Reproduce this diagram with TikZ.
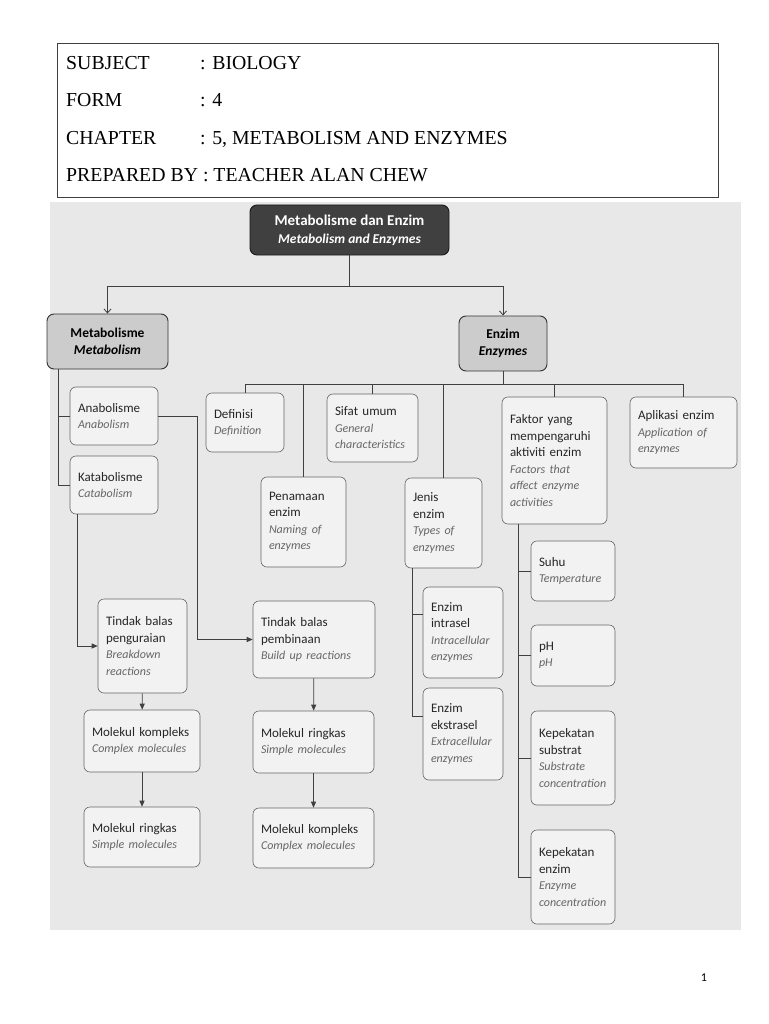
\documentclass[tikz,border=0pt]{standalone}
\usepackage{fontspec}
\setmainfont{Carlito}
\newfontfamily\hdrfont{Liberation Serif}
\usetikzlibrary{arrows.meta,positioning,calc}
\hyphenpenalty=10000
\exhyphenpenalty=10000

\tikzset{
  hdr/.style={anchor=base west, inner sep=0pt, font=\hdrfont\fontsize{19.8}{24}\selectfont},
  leaf/.style={draw=black!60, line width=0.6pt, rounded corners=6pt, fill=black!5, align=left,
    inner xsep=8pt, inner ysep=3pt, text=black!85, font=\fontsize{13}{16.5}\selectfont},
  head/.style={draw=black!80, line width=0.9pt, rounded corners=7pt, fill=black!20, align=center,
    font=\bfseries\fontsize{13.5}{16.5}\selectfont},
  link/.style={draw=black!75, line width=0.8pt},
  tip/.style={link, -{Triangle[length=6pt,width=5pt]}},
  barb/.style={link, -{Straight Barb[length=4pt,width=7pt]}},
}
\newcommand\eng[1]{{\fontsize{12}{15}\selectfont\itshape\color{black!60}#1}}

\begin{document}
\begin{tikzpicture}[x=1pt,y=-1pt]
\useasboundingbox (0,0) rectangle (768,1024);

% header
\node[draw=black!75, line width=1pt, minimum width=661pt, minimum height=154pt, anchor=north west, inner sep=0pt] (kepala) at (57,43) {};
\foreach \y/\a/\b [count=\i] in {70/SUBJECT/: BIOLOGY, 107/FORM/: 4, 145/CHAPTER/{: 5, METABOLISM AND ENZYMES}} {
  \node[hdr] (label\i) at (66,\y) {\a};
  \node[hdr] (nilai\i) at (200,\y) {\b};
}
\node[hdr] (penyedia) at (66,182) {PREPARED BY : TEACHER ALAN CHEW};

% scanned page
\fill[black!9] (50,202) rectangle (741,930);

\node[head, fill=black!75, draw=black!90, text=white, minimum width=199pt, minimum height=50pt,
  font=\bfseries\fontsize{15}{18}\selectfont] (tajuk) at (349.5,230)
  {Metabolisme dan Enzim\\{\itshape\fontsize{13.5}{17}\selectfont Metabolism and Enzymes}};
\node[head, minimum width=121pt, minimum height=55pt] (metab) at (107.5,341.5) {Metabolisme\\\itshape Metabolism};
\node[head, minimum width=88pt, minimum height=55pt] (enzim) at (503,343.5) {Enzim\\\itshape Enzymes};

% metabolisme
\node[leaf, text width=72pt, minimum height=58pt] (anab) at (114,416) {Anabolisme\\\eng{Anabolism}};
\node[leaf, text width=72pt, minimum height=58pt] (katab) at (114,485) {Katabolisme\\\eng{Catabolism}};
\node[leaf, text width=73pt, minimum height=94pt] (urai) at (142.5,646) {Tindak balas\\penguraian\\\eng{Breakdown}\\\eng{reactions}};
\node[leaf, text width=106pt, minimum height=77pt] (bina) at (314,639.5) {Tindak balas\\pembinaan\\\eng{Build up reactions}};
\node[leaf, text width=100pt, minimum height=62pt] (komplekskiri) at (142,741) {Molekul kompleks\\\eng{Complex molecules}};
\node[leaf, text width=100pt, minimum height=60pt] (ringkaskiri) at (142,837) {Molekul ringkas\\\eng{Simple molecules}};
\node[leaf, text width=105pt, minimum height=62pt] (ringkastengah) at (313.5,742) {Molekul ringkas\\\eng{Simple molecules}};
\node[leaf, text width=105pt, minimum height=60pt] (komplekstengah) at (313.5,838) {Molekul kompleks\\\eng{Complex molecules}};

% enzim
\node[leaf, text width=62pt, minimum height=59pt] (definisi) at (245,422.5) {Definisi\\\eng{Definition}};
\node[leaf, text width=75pt, minimum height=68pt] (sifat) at (372.5,428) {Sifat umum\\\eng{General}\\\eng{characteristics}};
\node[leaf, text width=69pt, minimum height=90pt] (penamaan) at (303.5,522) {Penamaan\\enzim\\\eng{Naming of}\\\eng{enzymes}};
\node[leaf, text width=61pt, minimum height=90pt] (jenis) at (443.5,523) {Jenis\\enzim\\\eng{Types of}\\\eng{enzymes}};
\node[leaf, text width=89pt, minimum height=127pt] (faktor) at (554.5,460.5) {Faktor yang\\mempengaruhi\\aktiviti enzim\\\eng{Factors that}\\\eng{affect enzyme}\\\eng{activities}};
\node[leaf, text width=91pt, minimum height=71pt] (aplikasi) at (683.5,432.5) {Aplikasi enzim\\\eng{Application of}\\\eng{enzymes}};
\node[leaf, text width=64pt, minimum height=91pt] (intrasel) at (463,632.5) {Enzim\\intrasel\\\eng{Intracellular}\\\eng{enzymes}};
\node[leaf, text width=64pt, minimum height=92pt] (ekstrasel) at (463,734) {Enzim\\ekstrasel\\\eng{Extracellular}\\\eng{enzymes}};
\node[leaf, text width=68pt, minimum height=60pt] (suhu) at (573,571) {Suhu\\\eng{Temperature}};
\node[leaf, text width=68pt, minimum height=61pt] (ph) at (573,655.5) {pH\\\eng{pH}};
\node[leaf, text width=68pt, minimum height=94pt] (substrat) at (573,758) {Kepekatan\\substrat\\\eng{Substrate}\\\eng{concentration}};
\node[leaf, text width=68pt, minimum height=94pt] (kenzim) at (573,877) {Kepekatan\\enzim\\\eng{Enzyme}\\\eng{concentration}};

\node[font=\fontsize{12}{14}\selectfont] (halaman) at (704,978) {1};

% connectors
\coordinate (cabang) at (349.5,286);
\draw[link] (tajuk.south) -- (cabang);
\draw[barb] (cabang) -| (metab.north);
\draw[barb] (cabang) -| (enzim.north);

\coordinate (batang) at (58,0);
\draw[link] (metab.south -| batang) |- (katab.west);
\draw[link] (anab.west -| batang) -- (anab.west);
\coordinate (belokA) at (197,0);
\draw[tip] (anab.east) -- (anab.east -| belokA) |- (bina.west);
\coordinate (belokK) at (77,0);
\draw[tip] (katab.south -| belokK) |- (urai.west);
\draw[tip] (urai) -- (komplekskiri);
\draw[tip] (komplekskiri) -- (ringkaskiri);
\draw[tip] (bina) -- (ringkastengah);
\draw[tip] (ringkastengah) -- (komplekstengah);

\coordinate (bas) at (503,384);
\draw[link] (enzim.south) -- (bas);
\foreach \n in {definisi,penamaan,sifat,jenis,faktor,aplikasi}
  \draw[link] (bas) -| (\n.north);

\coordinate (batangJ) at (412,0);
\coordinate (masukI) at ([yshift=18pt]intrasel.west);
\coordinate (masukE) at ([yshift=18pt]ekstrasel.west);
\draw[link] (jenis.south -| batangJ) |- (masukE);
\draw[link] (masukI -| batangJ) -- (masukI);

\coordinate (batangF) at (518,0);
\draw[link] (faktor.south -| batangF) |- (kenzim.west);
\foreach \n in {suhu,ph,substrat}
  \draw[link] (\n.west -| batangF) -- (\n.west);
\end{tikzpicture}
\end{document}
